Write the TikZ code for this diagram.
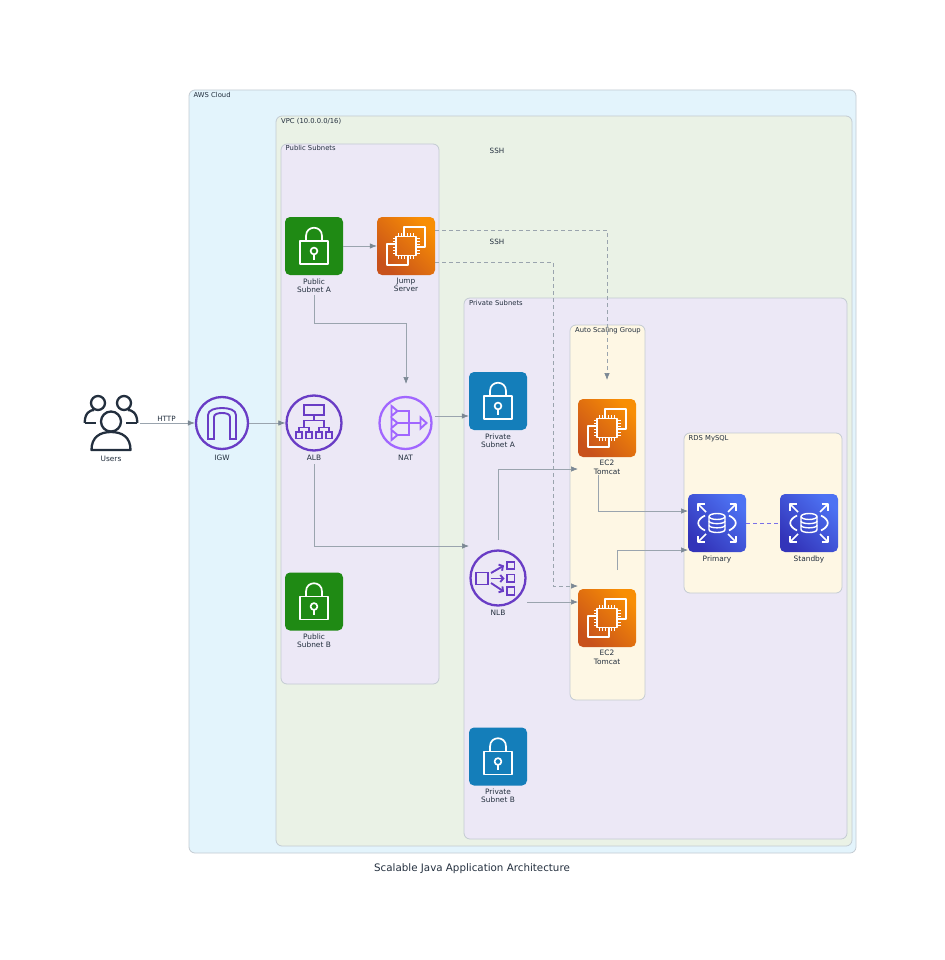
\documentclass[tikz,border=0pt]{standalone}
\usepackage{fontspec}
\setmainfont{DejaVu Sans}
\usetikzlibrary{arrows.meta}
\definecolor{awsfill}{HTML}{E3F4FC}
\definecolor{vpcfill}{HTML}{EAF2E6}
\definecolor{subnetfill}{HTML}{ECE8F6}
\definecolor{groupfill}{HTML}{FEF7E4}
\definecolor{groupline}{HTML}{C3CBD2}
\definecolor{edgeline}{HTML}{9AA4AE}
\definecolor{edgetip}{HTML}{7B8894}
\definecolor{inkdark}{HTML}{232F3E}
\definecolor{netpurple}{HTML}{693CC5}
\definecolor{natpurple}{HTML}{A166FF}
\definecolor{dbdash}{HTML}{7A70E8}
\tikzset{
  group/.style={draw=groupline,line width=0.8pt,rounded corners=6pt},
  grouplbl/.style={anchor=north west,inner sep=0pt,text=inkdark,font=\fontsize{6.8}{8}\selectfont},
  lbl/.style={inner sep=0pt,align=center,text=inkdark,font=\fontsize{7.4}{8.2}\selectfont},
  edgelbl/.style={inner sep=0pt,text=inkdark,font=\fontsize{7.2}{8.2}\selectfont},
  tilelbl/.style={lbl,yshift=-3pt},
  ringlbl/.style={lbl,yshift=-4.5pt},
  tile/.style={minimum size=58pt,inner sep=0pt,rounded corners=5pt},
  greentile/.style={tile,fill={rgb,255:red,31;green,138;blue,20}},
  bluetile/.style={tile,fill={rgb,255:red,20;green,126;blue,186}},
  orangetile/.style={tile,top color={rgb,255:red,248;green,142;blue,4},bottom color={rgb,255:red,200;green,81;blue,27},shading angle=-45},
  rdstile/.style={tile,top color={rgb,255:red,77;green,114;blue,243},bottom color={rgb,255:red,51;green,52;blue,185},shading angle=-45},
  ring/.style={circle,draw=netpurple,line width=2.3pt,minimum size=#1,inner sep=0pt},
  plain/.style={minimum size=58pt,inner sep=0pt},
  edge/.style={draw=edgeline,line width=0.7pt,-{Latex[length=7pt,width=5.5pt,color=edgetip]}},
  sshedge/.style={edge,dashed,dash pattern=on 4pt off 3pt},
  icon/.style={draw=white,line width=1.7pt,line join=round},
  neticon/.style={draw=netpurple,line width=1.9pt,line join=miter},
  naticon/.style={draw=natpurple,line width=1.9pt,line join=miter},
  lockicon/.pic={
    \draw[icon] (-14,-5) rectangle (14,18);
    \draw[icon] (-8,-5) -- (-8,-10) .. controls (-8,-21) and (8,-21) .. (8,-10) -- (8,-5);
    \draw[icon] (0,5) circle (3.4);
    \draw[icon] (0,8.4) -- (0,13.5);
  },
  chipicon/.pic={
    \draw[icon] (-1.7,-9.5) -- (-1.7,-18.7) -- (19,-18.7) -- (19,1.3) -- (10,1.3);
    \draw[icon] (-10,-2) -- (-19,-2) -- (-19,18.7) -- (1.7,18.7) -- (1.7,9);
    \draw[icon,line width=1.9pt] (-10,-9.5) rectangle (10,9.5);
    \foreach \p in {-7.5,-4.5,-1.5,1.5,4.5,7.5} {
      \draw[icon,line width=1pt] (\p,-9.5) -- (\p,-13);
      \draw[icon,line width=1pt] (\p,9.5) -- (\p,13);
      \draw[icon,line width=1pt] (-10,\p) -- (-13.5,\p);
      \draw[icon,line width=1pt] (10,\p) -- (13.5,\p);
    }
  },
  dbicon/.pic={
    \draw[icon,line width=1.4pt] (-8,-6.5) -- (-8,6.5) .. controls (-8,10.5) and (8,10.5) .. (8,6.5) -- (8,-6.5);
    \draw[icon,line width=1.4pt] (0,-6.5) ellipse (8 and 3);
    \foreach \d in {-2,2.2} {
      \draw[icon,line width=1.4pt] (-8,\d) .. controls (-8,\d+3.5) and (8,\d+3.5) .. (8,\d);
    }
    \draw[icon] (-12,-7.5) .. controls (-21,-3) and (-21,3) .. (-12,7.5);
    \draw[icon] (12,-7.5) .. controls (21,-3) and (21,3) .. (12,7.5);
    \foreach \sx/\sy in {-1/-1,1/-1,-1/1,1/1} {
      \draw[icon] (\sx*11,\sy*11) -- (\sx*19,\sy*19);
      \draw[icon] (\sx*12.5,\sy*19) -- (\sx*19,\sy*19) -- (\sx*19,\sy*12.5);
    }
  },
  archicon/.pic={
    \draw[neticon] (-14,16) -- (-14,-8) .. controls (-14,-13) and (-7,-15) .. (0,-15) .. controls (7,-15) and (14,-13) .. (14,-8) -- (14,16) -- (8,16) -- (8,-6) .. controls (8,-9) and (4,-10) .. (0,-10) .. controls (-4,-10) and (-8,-9) .. (-8,-6) -- (-8,16) -- cycle;
  },
  albicon/.pic={
    \draw[neticon] (-10,-18) rectangle (10,-8);
    \draw[neticon] (0,-8) -- (0,-2.5);
    \draw[neticon] (-10,4.5) -- (-10,-2.5) -- (10,-2.5) -- (10,4.5);
    \draw[neticon] (-15,9) -- (-15,4.5) -- (-5,4.5) -- (-5,9);
    \draw[neticon] (5,9) -- (5,4.5) -- (15,4.5) -- (15,9);
    \foreach \c in {-15,-5,5,15} {
      \draw[neticon] (\c-3,9) rectangle (\c+3,15.5);
    }
  },
  naticn/.pic={
    \foreach \t in {-12,0,12} {
      \draw[naticon] (-14,\t-5) -- (-8,\t) -- (-14,\t+5) -- cycle;
    }
    \draw[naticon] (-8,-12) -- (3.5,-12) -- (3.5,12) -- (-8,12);
    \draw[naticon] (-8,0) -- (15,0);
    \draw[naticon] (15,-5.5) -- (21,0) -- (15,5.5) -- cycle;
  },
  nlbicon/.pic={
    \draw[neticon] (-22,-5.5) rectangle (-10,6.5);
    \draw[neticon] (9,-16) rectangle (16.5,-8.7);
    \draw[neticon] (9,-3.5) rectangle (16.5,4);
    \draw[neticon] (9,9.3) rectangle (16.5,17);
    \draw[neticon,-{Straight Barb[length=3pt,width=7pt]}] (-7,-5) -- (6,-12.5);
    \draw[neticon,-{Straight Barb[length=3pt,width=7pt]}] (-7,0.5) -- (6.5,0.5);
    \draw[neticon,-{Straight Barb[length=3pt,width=7pt]}] (-7,5) -- (6,13.7);
  },
  usersicon/.pic={
    \draw[draw=inkdark,line width=2.3pt,line join=round] (-26.3,0) .. controls (-26.3,-11) and (-20,-13) .. (-17,-13);
    \draw[draw=inkdark,line width=2.3pt] (-26.3,0) -- (-15,0);
    \draw[draw=inkdark,line width=2.3pt] (26.3,0) .. controls (26.3,-11) and (20,-13) .. (17,-13);
    \draw[draw=inkdark,line width=2.3pt] (26.3,0) -- (15,0);
    \draw[draw=inkdark,line width=2.3pt,fill=white] (-13,-20) circle (7);
    \draw[draw=inkdark,line width=2.3pt,fill=white] (13,-20) circle (7);
    \draw[draw=inkdark,line width=2.3pt,fill=white,line join=round] (-19.5,27) .. controls (-19.5,14) and (-11,9) .. (0,9) .. controls (11,9) and (19.5,14) .. (19.5,27) -- cycle;
    \draw[draw=inkdark,line width=2.3pt,fill=white] (0,-1.5) circle (10);
  },
}
\begin{document}
\begin{tikzpicture}[x=1pt,y=-1pt]
  \useasboundingbox (0,0) rectangle (944,960);
  % clusters
  \draw[group,fill=awsfill] (189,90) rectangle (856,853);
  \draw[group,fill=vpcfill] (276,116) rectangle (852,846);
  \draw[group,fill=subnetfill] (281,144) rectangle (439,684);
  \draw[group,fill=subnetfill] (464,298) rectangle (847,839);
  \draw[group,fill=groupfill] (570,325) rectangle (645,700);
  \draw[group,fill=groupfill] (684,433) rectangle (842,593);
  \node[grouplbl] (awslbl) at (193.5,92) {AWS Cloud};
  \node[grouplbl] (vpclbl) at (281,118) {VPC (10.0.0.0/16)};
  \node[grouplbl] (publbl) at (285.5,145.5) {Public Subnets};
  \node[grouplbl] (privlbl) at (469,300) {Private Subnets};
  \node[grouplbl] (asglbl) at (575,327) {Auto Scaling Group};
  \node[grouplbl] (rdslbl) at (688.5,435) {RDS MySQL};
  % services
  \draw
    (111,423) node[plain,label={[ringlbl,yshift=1pt]below:Users}] (users){} pic{usersicon}
    (222,423) node[ring=52pt,label={[ringlbl]below:IGW}] (igw){} pic{archicon}
    (314,423) node[ring=55pt,label={[ringlbl,yshift=1pt]below:ALB}] (alb){} pic{albicon}
    (405.5,423) node[ring=52pt,draw=natpurple,label={[ringlbl]below:NAT}] (nat){} pic{naticn}
    (498,578) node[ring=55pt,label={[ringlbl,yshift=1pt]below:NLB}] (nlb){} pic{nlbicon}
    (314,246) node[greentile,label={[tilelbl]below:Public\\Subnet A}] (suba){} pic{lockicon}
    (314,601.5) node[greentile,label={[tilelbl]below:Public\\Subnet B}] (subb){} pic{lockicon}
    (498,401) node[bluetile,label={[tilelbl]below:Private\\Subnet A}] (priva){} pic{lockicon}
    (498,756.5) node[bluetile,label={[tilelbl]below:Private\\Subnet B}] (privb){} pic{lockicon}
    (406,246) node[orangetile,label={[tilelbl]below:Jump\\Server}] (jump){} pic{chipicon}
    (607,428) node[orangetile,label={[tilelbl]below:EC2\\Tomcat}] (ec2a){} pic{chipicon}
    (607,618) node[orangetile,label={[tilelbl]below:EC2\\Tomcat}] (ec2b){} pic{chipicon}
    (717,523) node[rdstile,label={[tilelbl]below:Primary}] (primary){} pic{dbicon}
    (809,523) node[rdstile,label={[tilelbl]below:Standby}] (standby){} pic{dbicon};
  % free ends
  \coordinate (subaout) at (314,295);
  \coordinate (natin) at (406,384);
  \coordinate (natout) at (435,416);
  \coordinate (albout) at (314,464);
  \coordinate (nlbin) at (469,546);
  \coordinate (nlbup) at (498,540);
  \coordinate (ec2ain) at (578,469);
  \coordinate (nlbout) at (527,602);
  \coordinate (ec2bin) at (578,602);
  \coordinate (ec2aout) at (598,475);
  \coordinate (priin1) at (688,511);
  \coordinate (ec2bout) at (617,570);
  \coordinate (priin2) at (688,550);
  \coordinate (jumpa) at (435,230);
  \coordinate (ec2assh) at (607,380);
  \coordinate (jumpb) at (435,262);
  \coordinate (sshbend) at (553,400);
  \coordinate (ec2bssh) at (578,586);
  % connectors
  \draw[edge] (users) -- (igw);
  \draw[edge] (igw) -- (alb);
  \draw[edge] (suba) -- (jump);
  \draw[edge] (subaout) -- ++(0,28) -| (natin);
  \draw[edge] (natout) -- (natout -| priva.west);
  \draw[edge] (albout) |- (nlbin);
  \draw[edge] (nlbup) |- (ec2ain);
  \draw[edge] (nlbout) -- (ec2bin);
  \draw[edge] (ec2aout) |- (priin1);
  \draw[edge] (ec2bout) |- (priin2);
  \draw[sshedge] (jumpa) -| (ec2assh);
  \draw[sshedge] (jumpb) -| (sshbend) |- (ec2bssh);
  \draw[draw=dbdash,line width=0.9pt,dashed,dash pattern=on 4pt off 3pt] (primary) -- (standby);
  % edge labels and title
  \node[edgelbl] (httplbl) at (166.5,419) {HTTP};
  \node[edgelbl] (ssha) at (497,151) {SSH};
  \node[edgelbl] (sshb) at (497,242) {SSH};
  \node[inner sep=0pt,text=inkdark,font=\fontsize{10.3}{12}\selectfont] (title) at (472,868.5) {Scalable Java Application Architecture};
\end{tikzpicture}
\end{document}
